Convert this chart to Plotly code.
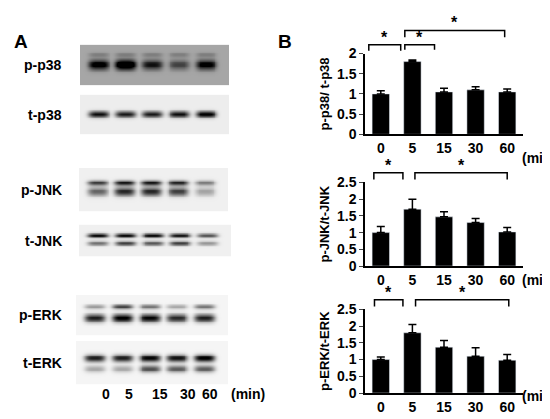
import numpy as np
import plotly.graph_objects as go

times = ["0", "5", "15", "30", "60"]
p38_mean = [1.0, 1.8, 1.05, 1.1, 1.05]
p38_err = [0.08, 0.04, 0.09, 0.08, 0.07]
jnk_mean = [1.0, 1.7, 1.47, 1.3, 1.02]
jnk_err = [0.18, 0.3, 0.15, 0.12, 0.13]
erk_mean = [1.0, 1.8, 1.37, 1.1, 0.98]
erk_err = [0.08, 0.25, 0.2, 0.25, 0.17]

blot_names = ["p-p38", "t-p38", "p-JNK", "t-JNK", "p-ERK", "t-ERK"]
blot_bg = [0.35, 0.07, 0.06, 0.06, 0.04, 0.04]
# bands: (relative vertical position from top, thickness, lane intensities)
blot_bands = [
    [(0.25, 0.06, [0.15, 0.15, 0.15, 0.15, 0.15]), (0.5, 0.12, [0.75, 1.0, 0.6, 0.4, 0.7])],
    [(0.5, 0.08, [0.9, 0.85, 0.85, 0.9, 1.0])],
    [(0.35, 0.06, [0.7, 0.85, 0.85, 0.8, 0.45]), (0.55, 0.1, [0.55, 0.8, 0.8, 0.7, 0.3])],
    [(0.35, 0.07, [0.9, 0.9, 0.9, 0.85, 0.6]), (0.6, 0.07, [0.5, 0.7, 0.6, 0.7, 0.35])],
    [(0.3, 0.06, [0.35, 0.7, 0.5, 0.3, 0.5]), (0.58, 0.1, [0.85, 1.0, 0.95, 0.8, 0.85])],
    [(0.4, 0.08, [0.85, 0.85, 0.95, 0.9, 1.0]), (0.65, 0.08, [0.3, 0.3, 0.65, 0.6, 0.6])],
]
blot_px = [(72, 221, 30, 72), (72, 221, 82, 123), (71, 220, 158, 203),
           (71, 223, 217, 250), (68, 220, 290, 332), (68, 220, 338, 383)]

W, H = 550, 419
FONT = 14
fig = go.Figure()
layout = dict(width=W, height=H, margin=dict(l=0, r=0, t=0, b=0),
              paper_bgcolor="white", plot_bgcolor="white", showlegend=False,
              font=dict(family="Liberation Sans, Arial", size=FONT, color="black"))
annotations, shapes = [], []

xf = np.linspace(-0.7, 4.85, 160)
yf = np.linspace(0, 1, 50)
for i, name in enumerate(blot_names):
    x0, x1, y0, y1 = blot_px[i]
    z = np.full((len(yf), len(xf)), blot_bg[i])
    for pos, th, ints in blot_bands[i]:
        prof_y = np.exp(-((yf - pos) / th) ** 2)
        for lane, v in enumerate(ints):
            prof_x = np.exp(-((xf - lane) / 0.38) ** 4)
            z += v * np.outer(prof_y, prof_x)
    z = np.clip(z, 0, 1)
    ax = i + 4
    fig.add_trace(go.Heatmap(x=xf, y=yf, z=z, zmin=0, zmax=1, showscale=False,
                             colorscale=[[0, "white"], [1, "black"]], hoverinfo="skip",
                             xaxis=f"x{ax}", yaxis=f"y{ax}"))
    layout[f"xaxis{ax}"] = dict(domain=[x0 / W, x1 / W], range=[-0.7, 4.85], visible=False,
                                anchor=f"y{ax}")
    layout[f"yaxis{ax}"] = dict(domain=[1 - y1 / H, 1 - y0 / H], range=[1, 0], visible=False,
                                anchor=f"x{ax}")
    annotations.append(dict(text=f"<b>{name}</b>", x=56 / W, y=1 - (y0 + y1) / 2 / H,
                            xref="paper", yref="paper", xanchor="right", yanchor="middle",
                            showarrow=False, font=dict(size=FONT)))

lane_px = [92, 115, 142, 170, 202]
for t, px in zip(times, lane_px):
    annotations.append(dict(text=f"<b>{t}</b>", x=px / W, y=1 - 403 / H, xref="paper", yref="paper",
                            showarrow=False, font=dict(size=FONT)))
annotations.append(dict(text="<b>(min)</b>", x=240 / W, y=1 - 403 / H, xref="paper", yref="paper",
                        showarrow=False, font=dict(size=FONT)))
annotations.append(dict(text="<b>A</b>", x=4 / W, y=1 - 13 / H, xref="paper", yref="paper",
                        xanchor="left", showarrow=False, font=dict(size=19)))
annotations.append(dict(text="<b>B</b>", x=268 / W, y=1 - 13 / H, xref="paper", yref="paper",
                        xanchor="left", showarrow=False, font=dict(size=19)))

panels = [
    ("p-p38/ t-p38", p38_mean, p38_err, (39, 123), 2.0, [0, 0.5, 1, 1.5, 2],
     [(-0.38, 0.63, 30, 36), (0.76, 1.7, 30, 35), (0.76, 3.92, 15, 22)]),
    ("p-JNK/t-JNK", jnk_mean, jnk_err, (173, 260), 2.5, [0, 0.5, 1, 1.5, 2, 2.5],
     [(-0.22, 0.7, 163, 170), (1.08, 4.0, 163, 170)]),
    ("p-ERK/t-ERK", erk_mean, erk_err, (305, 392), 2.5, [0, 0.5, 1, 1.5, 2, 2.5],
     [(-0.2, 0.7, 295, 302), (1.1, 4.05, 295, 302)]),
]
xdom = [357 / W, 515 / W]
for k, (title, m, e, (ytop, ybot), ymax, tv, brackets) in enumerate(panels):
    n = k + 1
    fig.add_trace(go.Bar(x=list(range(5)), y=m, marker_color="black", width=0.55,
                         error_y=dict(type="data", array=e, arrayminus=[0] * 5, color="black",
                                      thickness=1.5, width=4),
                         xaxis=f"x{n}", yaxis=f"y{n}"))
    layout[f"xaxis{n}"] = dict(domain=xdom, range=[-0.5, 4.5], anchor=f"y{n}",
                               tickvals=list(range(5)), ticktext=[f"<b>{t}</b>" for t in times],
                               showline=True, linecolor="black", linewidth=1.5, ticks="",
                               tickfont=dict(size=FONT), showgrid=False, zeroline=False)
    layout[f"yaxis{n}"] = dict(domain=[1 - ybot / H, 1 - ytop / H], range=[0, ymax], anchor=f"x{n}",
                               tickvals=tv, ticktext=[f"<b>{v:g}</b>" for v in tv],
                               showline=True, linecolor="black", linewidth=1.5, ticks="outside",
                               ticklen=4, tickfont=dict(size=FONT), showgrid=False, zeroline=False,
                               title=dict(text=f"<b>{title}</b>", font=dict(size=13), standoff=4))
    annotations.append(dict(text="<b>(min)</b>", x=512 / W, y=1 - (ybot + 14) / H, xref="paper",
                            yref="paper", xanchor="left", showarrow=False, font=dict(size=FONT)))
    for (bx0, bx1, by0, by1) in brackets:
        shapes.append(dict(type="path", xref=f"x{n}", yref="paper",
                           path=f"M {bx0} {1 - by1 / H} L {bx0} {1 - by0 / H} L {bx1} {1 - by0 / H} L {bx1} {1 - by1 / H}",
                           line=dict(color="black", width=1.5)))
        annotations.append(dict(text="<b>*</b>", x=(bx0 + bx1) / 2, y=1 - (by0 + 3) / H, xref=f"x{n}",
                                yref="paper", yanchor="bottom", showarrow=False, font=dict(size=16)))

layout["annotations"] = annotations
layout["shapes"] = shapes
fig.update_layout(**layout)
fig.write_html("out.html")
